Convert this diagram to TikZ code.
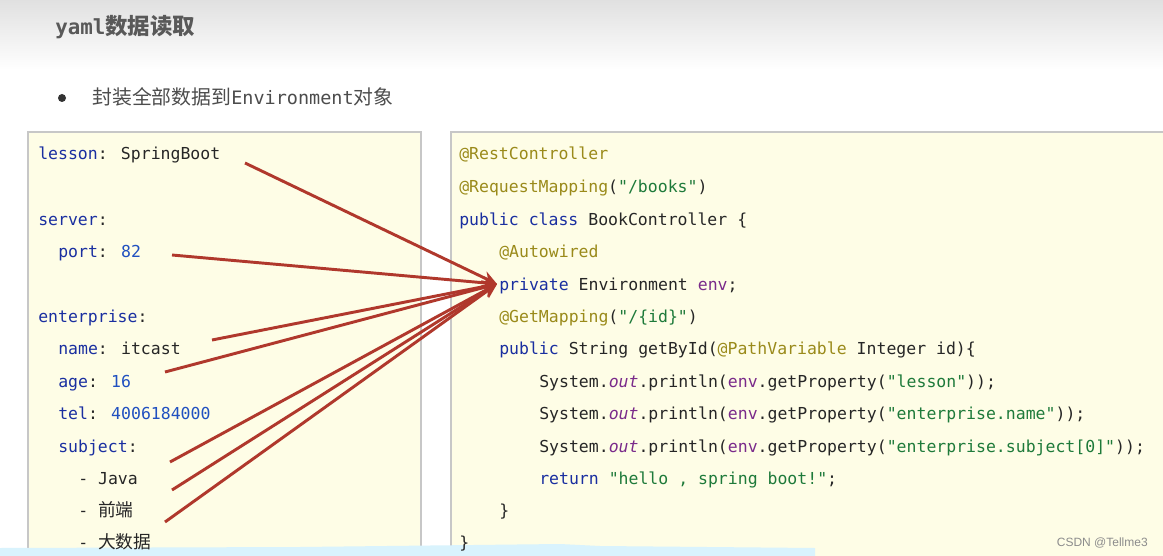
\documentclass[tikz,border=0pt]{standalone}
\usepackage{fontspec}
\newfontfamily\cjk{Noto Sans CJK SC}
\newfontfamily\code{DejaVu Sans Mono}[Scale=0.93]
\usetikzlibrary{arrows.meta}
\definecolor{kw}{HTML}{1A2FA0}
\definecolor{ann}{HTML}{9A8A1A}
\definecolor{pur}{HTML}{7A2A8A}
\definecolor{str}{HTML}{1E7A3A}
\definecolor{num}{HTML}{2050C0}
\definecolor{pan}{HTML}{FEFDE6}
\definecolor{arr}{HTML}{B0382C}
\tikzset{
  cl/.style={anchor=base west,inner sep=0pt,font=\code\fontsize{13.3}{15}\selectfont,text=black!85},
  pnl/.style={draw=black!22,fill=pan,line width=0.8pt},
  ar/.style={draw=arr,line width=2.2pt,-{Stealth[length=11pt,width=10pt]}},
}
\begin{document}
\begin{tikzpicture}[x=0.75pt,y=-0.75pt]
\useasboundingbox (0,0) rectangle (1163,556);
\shade[top color=black!12,bottom color=white] (0,0) rectangle (1163,70);
\fill[white] (0,70) rectangle (1163,556);
\node[anchor=base west,inner sep=0pt,text=black!65,font=\code\bfseries\fontsize{16.8}{18}\selectfont] (title) at (55,35) {yaml{\cjk 数据读取}};
\fill[black!80] (62,98) circle (4);
\node[anchor=base west,inner sep=0pt,text=black!70,font=\code\fontsize{14.9}{16}\selectfont] (bul) at (92,105) {{\cjk 封装全部数据到}Environment{\cjk 对象}};
\path[pnl] (28,132) rectangle (421,560);
\path[pnl] (451,132) rectangle (1170,560);
\fill[cyan!15] (0,548) -- (300,547) -- (560,544) -- (600,546) -- (815,548) -- (815,556) -- (0,556) -- cycle;
% left
\node[cl] (l1) at (38,160) {\textcolor{kw}{lesson}: SpringBoot};
\node[cl] (l2) at (38,225) {\textcolor{kw}{server}:};
\node[cl] (l3) at (58,257) {\textcolor{kw}{port}: \textcolor{num}{82}};
\node[cl] (l4) at (38,322) {\textcolor{kw}{enterprise}:};
\node[cl] (l5) at (58,354) {\textcolor{kw}{name}: itcast};
\node[cl] (l6) at (58,387) {\textcolor{kw}{age}: \textcolor{num}{16}};
\node[cl] (l7) at (58,419) {\textcolor{kw}{tel}: \textcolor{num}{4006184000}};
\node[cl] (l8) at (58,452) {\textcolor{kw}{subject}:};
\node[cl] (l9) at (78,484) {- Java};
\node[cl] (l10) at (78,516) {- {\cjk 前端}};
\node[cl] (l11) at (78,548) {- {\cjk 大数据}};
% right
\node[cl] (r1) at (459,160) {\textcolor{ann}{@RestController}};
\node[cl] (r2) at (459,192) {\textcolor{ann}{@RequestMapping}(\textcolor{str}{"/books"})};
\node[cl] (r3) at (459,225) {\textcolor{kw}{public class} BookController \{};
\node[cl] (r4) at (499,257) {\textcolor{ann}{@Autowired}};
\node[cl] (r5) at (499,290) {\textcolor{kw}{private} Environment \textcolor{pur}{env};};
\node[cl] (r6) at (499,322) {\textcolor{ann}{@GetMapping}(\textcolor{str}{"/\{id\}"})};
\node[cl] (r7) at (499,354) {\textcolor{kw}{public} String getById(\textcolor{ann}{@PathVariable} Integer id)\{};
\node[cl] (r8) at (539,387) {System.\textcolor{pur}{\itshape out}.println(\textcolor{pur}{env}.getProperty(\textcolor{str}{"lesson"}));};
\node[cl] (r9) at (539,419) {System.\textcolor{pur}{\itshape out}.println(\textcolor{pur}{env}.getProperty(\textcolor{str}{"enterprise.name"}));};
\node[cl] (r10) at (539,452) {System.\textcolor{pur}{\itshape out}.println(\textcolor{pur}{env}.getProperty(\textcolor{str}{"enterprise.subject[0]"}));};
\node[cl] (r11) at (539,484) {\textcolor{kw}{return} \textcolor{str}{"hello , spring boot!"};};
\node[cl] (r12) at (499,516) {\}};
\node[cl] (r13) at (459,548) {\}};
\node[anchor=base east,inner sep=0pt,text=black!45,font=\fontspec{Liberation Sans}\fontsize{9}{10}\selectfont] (wm) at (1148,546) {CSDN @Tellme3};
% arrows
\coordinate (t) at (497,284);
\coordinate (s1) at (245,163);
\coordinate (s2) at (172,255);
\coordinate (s3) at (212,340);
\coordinate (s4) at (165,372);
\coordinate (s5) at (170,462);
\coordinate (s6) at (172,490);
\coordinate (s7) at (165,522);
\foreach \s in {s1,s2,s3,s4,s5,s6,s7} \draw[ar] (\s) -- (t);
\end{tikzpicture}
\end{document}
